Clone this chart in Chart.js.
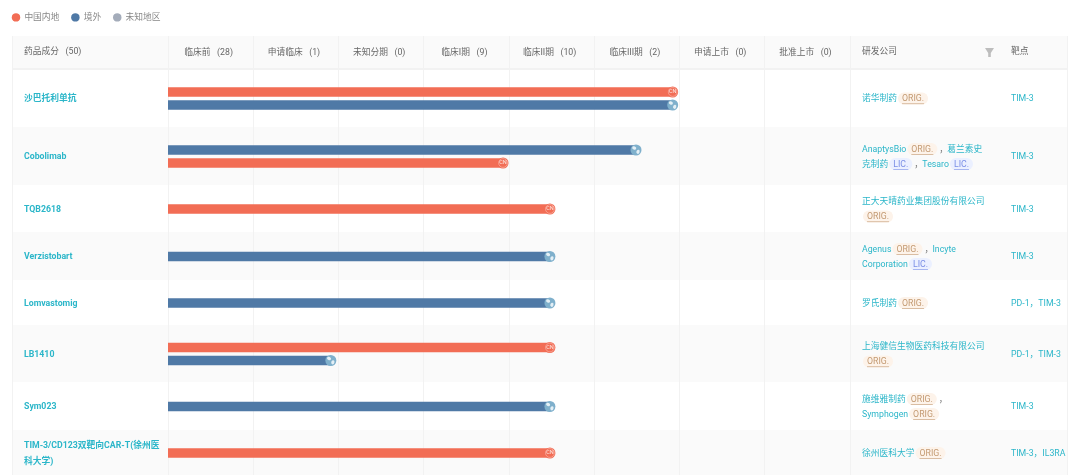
<!DOCTYPE html>
<html>
<head>
<meta charset="utf-8">
<title>TIM-3 药物管线</title>
<script src="https://cdn.jsdelivr.net/npm/chart.js@4/dist/chart.umd.min.js"></script>
<style>
  html, body { margin: 0; background: #fff; }
  #wrap { width: 1080px; height: 475px; }
</style>
</head>
<body>
<div id="wrap"><canvas id="pipeline"></canvas></div>
<script>
const drugs = [
  "沙巴托利单抗",
  "Cobolimab",
  "TQB2618",
  "Verzistobart",
  "Lomvastomig",
  "LB1410",
  "Sym023",
  ["TIM-3/CD123双靶向CAR-T(徐州医", "科大学)"],
];
const stages = [
  "临床前   (28)",
  "申请临床   (1)",
  "未知分期   (0)",
  "临床I期   (9)",
  "临床II期   (10)",
  "临床III期   (2)",
  "申请上市   (0)",
  "批准上市   (0)",
];
// how far each drug has progressed, in stage columns from 临床前
const mainlandReach = [5.92, 3.93, 4.48, null, null, 4.48, null, 4.48];
const overseasReach = [5.92, 5.49, null, 4.48, 4.48, 1.91, 4.48, null];
const overseasFirst = ["Cobolimab"];
const companies = [
  [["诺华制药", "ORIG."]],
  [["AnaptysBio", "ORIG.", "，", "葛兰素史"], ["克制药", "LIC.", "，", "Tesaro", "LIC."]],
  [["正大天晴药业集团股份有限公司"], ["ORIG."]],
  [["Agenus", "ORIG.", "，", "Incyte"], ["Corporation", "LIC."]],
  [["罗氏制药", "ORIG."]],
  [["上海健信生物医药科技有限公司"], ["ORIG."]],
  [["施维雅制药", "ORIG.", "，"], ["Symphogen", "ORIG."]],
  [["徐州医科大学", "ORIG."]],
];
const targets = ["TIM-3", "TIM-3", "TIM-3", "TIM-3", "PD-1，TIM-3", "PD-1，TIM-3", "TIM-3", "TIM-3，IL3RA"];

// table geometry
const rowHeights = [58, 58, 47, 48, 45, 57, 48, 45];
const headerTop = 36;
const bodyTop = 69;
const tableLeft = 12;
const tableRight = 1068;
const laneGap = 6.5;
const textNudge = 1; // CJK glyphs sit a little high on the middle baseline
const fontSize = 8.75;

const red = "#F26D55";
const blue = "#4F79A6";
const gray = "#A4ACBA";
const teal = "#2BB6C9";
const lineColor = "#F2F2F2";
const fontFamily = 'Roboto, "Noto Sans CJK SC"';

const rowEdges = [0];
rowHeights.forEach((h) => rowEdges.push(rowEdges[rowEdges.length - 1] + h));
const rowCentres = rowHeights.map((h, i) => rowEdges[i] + h / 2);

function lanePoints(values, others, side) {
  const points = [];
  values.forEach((v, i) => {
    if (v === null) return;
    let lane = 0;
    if (others[i] !== null) {
      const flipped = overseasFirst.includes(drugs[i]);
      lane = flipped ? -side : side;
    }
    points.push({ x: v, y: rowCentres[i] + 0.5 + lane * laneGap });
  });
  return points;
}

function drawTag(ctx, label, x, y) {
  const isOrig = label === "ORIG.";
  const w = ctx.measureText(label).width;
  ctx.fillStyle = isOrig ? "#FDF3EA" : "#EBF0FF";
  ctx.beginPath();
  ctx.roundRect(x, y - 6.5, w + 8, 12, 6);
  ctx.fill();
  ctx.fillStyle = isOrig ? "#C39A72" : "#7B8FE6";
  ctx.fillText(label, x + 4, y);
  ctx.fillRect(x + 4, y + 4.5, w, 0.6);
  return w + 8;
}

function drawCompanyCell(ctx, lines, centre) {
  lines.forEach((parts, n) => {
    const y = centre + (n - (lines.length - 1) / 2) * 15;
    let x = 862;
    parts.forEach((part) => {
      if (part === "ORIG." || part === "LIC.") {
        x += drawTag(ctx, part, x + 1, y) + 1;
      } else if (part === "，") {
        ctx.fillStyle = "#777";
        ctx.fillText(part, x + 2, y);
        x += 10;
      } else {
        ctx.fillStyle = teal;
        ctx.fillText(part, x, y);
        x += ctx.measureText(part).width;
      }
    });
  });
}

function drawGlobe(ctx, x, y) {
  ctx.fillStyle = "#7FB0CC";
  ctx.beginPath();
  ctx.arc(x, y, 5.5, 0, Math.PI * 2);
  ctx.fill();
  ctx.fillStyle = "#E4EFF5";
  ctx.beginPath();
  ctx.ellipse(x - 1.8, y - 2, 2.1, 1.6, 0.4, 0, Math.PI * 2);
  ctx.ellipse(x + 2, y + 1.8, 1.6, 2.1, 0.3, 0, Math.PI * 2);
  ctx.fill();
}

function drawCnBadge(ctx, x, y) {
  ctx.fillStyle = red;
  ctx.beginPath();
  ctx.arc(x, y, 5.5, 0, Math.PI * 2);
  ctx.fill();
  ctx.strokeStyle = "rgba(255, 255, 255, 0.45)";
  ctx.lineWidth = 0.7;
  ctx.beginPath();
  ctx.arc(x, y, 4.4, 0, Math.PI * 2);
  ctx.stroke();
  ctx.fillStyle = "#FDE7E2";
  ctx.font = "5.5px " + fontFamily;
  ctx.textAlign = "center";
  ctx.textBaseline = "middle";
  ctx.fillText("CN", x, y);
}

const tableChrome = {
  id: "tableChrome",
  beforeDraw(chart) {
    const { ctx, width, height, scales } = chart;
    ctx.save();
    ctx.fillStyle = "#fff";
    ctx.fillRect(0, 0, width, height);
    // header strip and alternating row tint
    ctx.fillStyle = "#FAFAFA";
    ctx.fillRect(tableLeft, headerTop, tableRight - tableLeft, bodyTop - headerTop);
    rowHeights.forEach((h, i) => {
      if (i % 2 === 1) {
        ctx.fillRect(tableLeft, scales.y.getPixelForValue(rowEdges[i]), tableRight - tableLeft, h);
      }
    });
    ctx.fillStyle = lineColor;
    ctx.fillRect(tableLeft, headerTop, 1, height - headerTop);
    ctx.fillRect(tableRight - 1, headerTop, 1, height - headerTop);
    ctx.fillRect(tableLeft, bodyTop - 1, tableRight - tableLeft, 2);
    ctx.restore();
  },
  afterDraw(chart) {
    const { ctx, scales } = chart;
    ctx.save();
    ctx.textBaseline = "middle";
    ctx.font = fontSize + "px " + fontFamily;
    ctx.fillStyle = "#666";
    ctx.fillText("药品成分   (50)", 24, 51 + textNudge);
    ctx.fillText("研发公司", 862, 51 + textNudge);
    ctx.fillText("靶点", 1011, 51 + textNudge);

    // funnel on the company column
    ctx.fillStyle = "#BDBDBD";
    ctx.beginPath();
    ctx.moveTo(985, 48);
    ctx.lineTo(994, 48);
    ctx.lineTo(990.8, 53);
    ctx.lineTo(990.8, 57);
    ctx.lineTo(988.2, 57);
    ctx.lineTo(988.2, 53);
    ctx.closePath();
    ctx.fill();

    rowCentres.forEach((c, i) => {
      const y = scales.y.getPixelForValue(c) + textNudge;
      ctx.font = fontSize + "px " + fontFamily;
      ctx.textAlign = "left";
      ctx.textBaseline = "middle";
      drawCompanyCell(ctx, companies[i], y);
      ctx.fillStyle = teal;
      ctx.fillText(targets[i], 1011, y);
    });

    // region badge at the end of every bar
    chart.getDatasetMeta(0).data.forEach((bar) => drawCnBadge(ctx, bar.x, bar.y));
    chart.getDatasetMeta(1).data.forEach((bar) => drawGlobe(ctx, bar.x, bar.y));
    ctx.restore();
  },
};

Chart.defaults.font.family = fontFamily;
Chart.defaults.font.size = fontSize;
Chart.defaults.color = "#777";

new Chart(document.getElementById("pipeline"), {
  type: "bar",
  data: {
    datasets: [
      {
        label: "中国内地",
        data: lanePoints(mainlandReach, overseasReach, -1),
        backgroundColor: red,
      },
      {
        label: "境外",
        data: lanePoints(overseasReach, mainlandReach, 1),
        backgroundColor: blue,
      },
      { label: "未知地区", data: [], backgroundColor: gray },
    ],
  },
  plugins: [tableChrome],
  options: {
    indexAxis: "y",
    responsive: true,
    maintainAspectRatio: false,
    animation: false,
    grouped: false,
    barThickness: 9,
    layout: { padding: { top: 1, right: 230 } },
    plugins: {
      tooltip: { enabled: false },
      legend: {
        position: "top",
        align: "start",
        labels: {
          usePointStyle: true,
          pointStyle: "circle",
          boxWidth: 8,
          boxHeight: 6,
          padding: 12,
          color: "#888",
          font: { size: fontSize },
        },
      },
    },
    scales: {
      x: { type: "linear", min: 0, max: stages.length, display: false },
      stage: {
        type: "category",
        axis: "x",
        labels: stages,
        position: "top",
        offset: true,
        afterFit(scale) {
          scale.height = bodyTop - 1 - scale.chart.legend.height;
        },
        grid: { offset: true, color: lineColor, tickLength: 33 },
        border: { display: false },
        ticks: {
          color: "#666",
          padding: -22,
          labelOffset: -2,
          maxRotation: 0,
          minRotation: 0,
          autoSkip: false,
        },
      },
      y: {
        type: "linear",
        reverse: true,
        offset: false,
        min: 0,
        max: rowEdges[rowEdges.length - 1],
        afterBuildTicks(scale) {
          scale.ticks = rowCentres.map((c) => ({ value: c + textNudge }));
        },
        afterFit(scale) {
          scale.width = 168;
        },
        grid: { display: false },
        border: { display: false },
        ticks: {
          mirror: true,
          padding: -144,
          autoSkip: false,
          color: teal,
          font: { size: fontSize, weight: "bold", lineHeight: 1.8 },
          callback: (value, i) => drugs[i],
        },
      },
    },
  },
});
</script>
</body>
</html>
